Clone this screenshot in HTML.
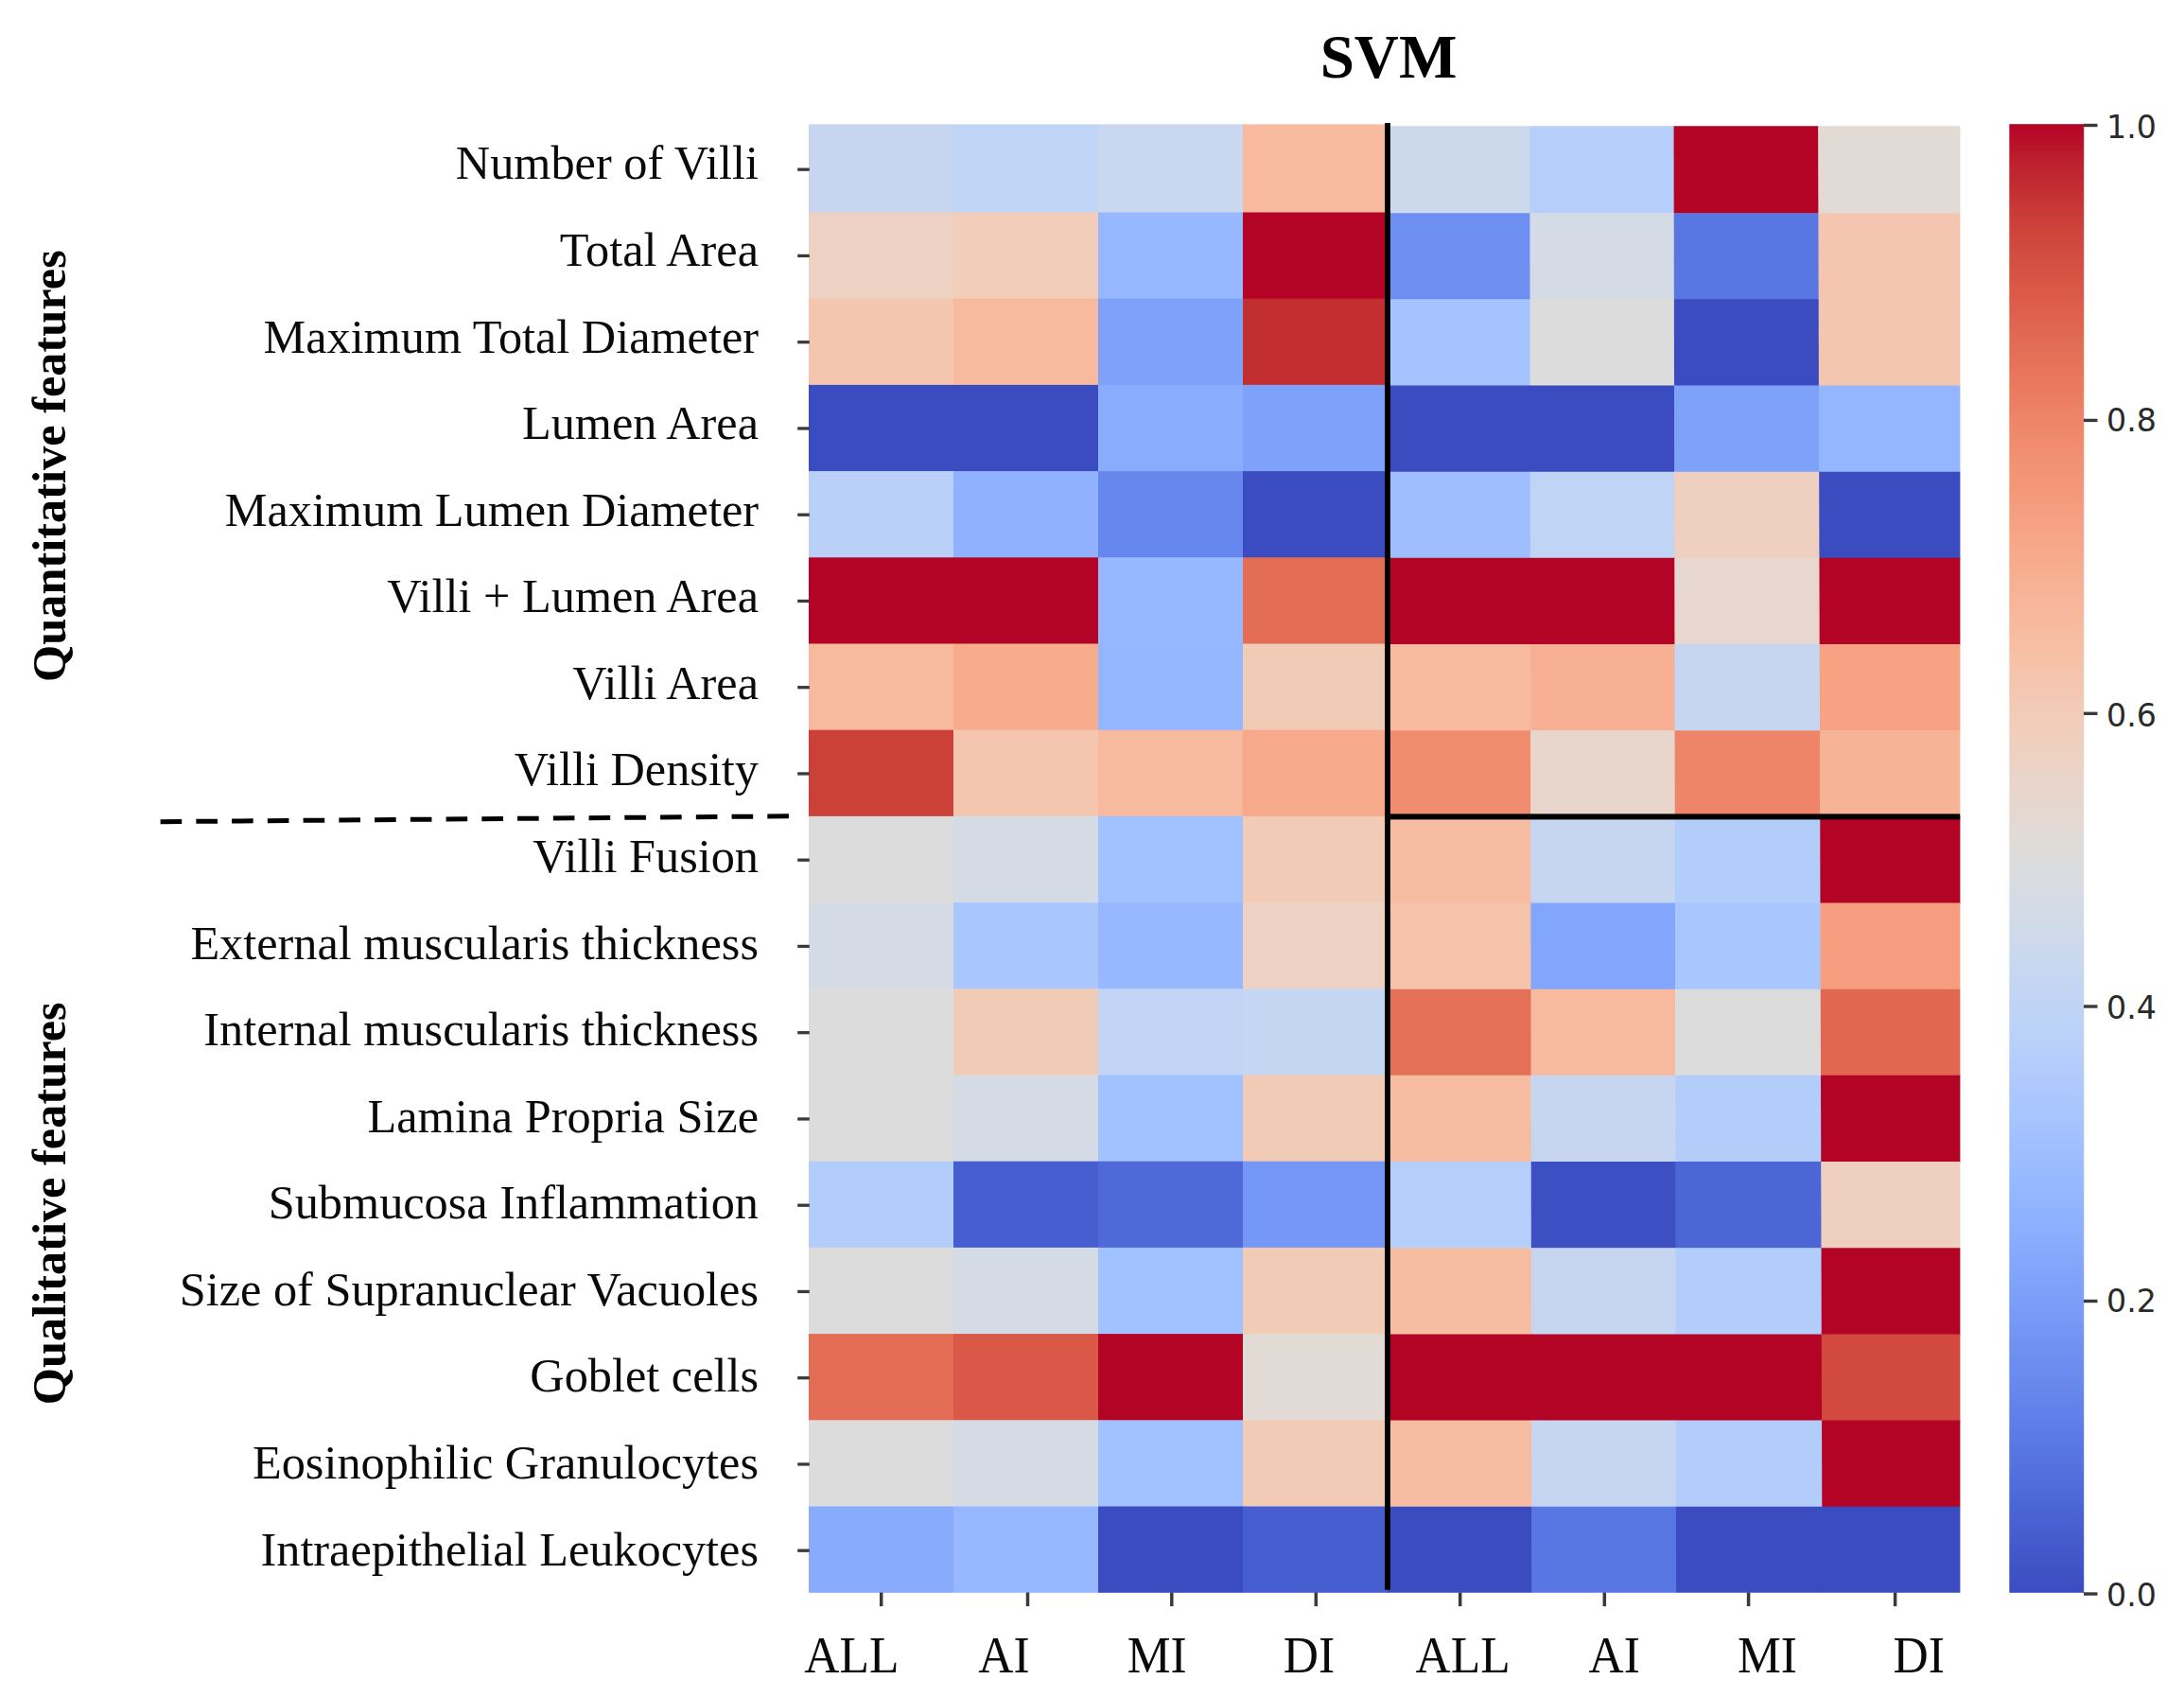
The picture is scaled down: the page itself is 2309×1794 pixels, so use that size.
<!DOCTYPE html>
<html lang="en"><head><meta charset="utf-8"><title>SVM feature importance heatmap</title>
<style>html,body{margin:0;padding:0;background:#fff}body{width:2309px;height:1794px;overflow:hidden}svg{display:block}.lab{font-family:"Liberation Serif","Times New Roman",serif;fill:#0a0a0a}.b{fill:#000;font-weight:bold}.num{font-family:"DejaVu Sans","Liberation Sans",sans-serif;fill:#2a2a2a}</style></head><body>
<svg width="2309" height="1794" viewBox="0 0 2309 1794">
<rect x="0" y="0" width="2309" height="1794" fill="#ffffff"/>
<defs><linearGradient id="cb" x1="0" y1="0" x2="0" y2="1"><stop offset="0.0000" stop-color="#b40426"/><stop offset="0.0250" stop-color="#bd1f2d"/><stop offset="0.0500" stop-color="#c53334"/><stop offset="0.0750" stop-color="#cf453c"/><stop offset="0.1000" stop-color="#d65244"/><stop offset="0.1250" stop-color="#dd5f4b"/><stop offset="0.1500" stop-color="#e36c55"/><stop offset="0.1750" stop-color="#e9785d"/><stop offset="0.2000" stop-color="#ee8468"/><stop offset="0.2250" stop-color="#f18f71"/><stop offset="0.2500" stop-color="#f4987a"/><stop offset="0.2750" stop-color="#f6a385"/><stop offset="0.3000" stop-color="#f7ac8e"/><stop offset="0.3250" stop-color="#f7b599"/><stop offset="0.3500" stop-color="#f6bda2"/><stop offset="0.3750" stop-color="#f5c4ac"/><stop offset="0.4000" stop-color="#f2cbb7"/><stop offset="0.4250" stop-color="#eed0c0"/><stop offset="0.4500" stop-color="#e9d5cb"/><stop offset="0.4750" stop-color="#e3d9d3"/><stop offset="0.5000" stop-color="#dddcdc"/><stop offset="0.5250" stop-color="#d6dce4"/><stop offset="0.5500" stop-color="#cfdaea"/><stop offset="0.5750" stop-color="#c7d7f0"/><stop offset="0.6000" stop-color="#c0d4f5"/><stop offset="0.6250" stop-color="#b9d0f9"/><stop offset="0.6500" stop-color="#afcafc"/><stop offset="0.6750" stop-color="#a7c5fe"/><stop offset="0.7000" stop-color="#9ebeff"/><stop offset="0.7250" stop-color="#96b7ff"/><stop offset="0.7500" stop-color="#8db0fe"/><stop offset="0.7750" stop-color="#84a7fc"/><stop offset="0.8000" stop-color="#7b9ff9"/><stop offset="0.8250" stop-color="#7295f4"/><stop offset="0.8500" stop-color="#6a8bef"/><stop offset="0.8750" stop-color="#6282ea"/><stop offset="0.9000" stop-color="#5977e3"/><stop offset="0.9250" stop-color="#516ddb"/><stop offset="0.9500" stop-color="#4961d2"/><stop offset="0.9750" stop-color="#4257c9"/><stop offset="1.0000" stop-color="#3b4cc0"/></linearGradient></defs>
<text class="lab b" x="1468" y="82.2" font-size="65.1" font-weight="bold" text-anchor="middle" fill="#000">SVM</text>
<g>
<rect x="855.00" y="131.40" width="153.60" height="93.70" fill="#c6d6f1"/>
<rect x="1008.00" y="131.40" width="153.60" height="93.70" fill="#c0d4f5"/>
<rect x="1161.00" y="131.40" width="153.60" height="93.70" fill="#cad8ef"/>
<rect x="1314.00" y="131.40" width="153.60" height="93.70" fill="#f7ba9f"/>
<rect x="855.00" y="224.50" width="153.60" height="91.80" fill="#edd2c3"/>
<rect x="1008.00" y="224.50" width="153.60" height="91.80" fill="#f1cdba"/>
<rect x="1161.00" y="224.50" width="153.60" height="91.80" fill="#97b8ff"/>
<rect x="1314.00" y="224.50" width="153.60" height="91.80" fill="#b40426"/>
<rect x="855.00" y="315.70" width="153.60" height="91.80" fill="#f4c6af"/>
<rect x="1008.00" y="315.70" width="153.60" height="91.80" fill="#f7ba9f"/>
<rect x="1161.00" y="315.70" width="153.60" height="91.80" fill="#7ea1fa"/>
<rect x="1314.00" y="315.70" width="153.60" height="91.80" fill="#c32e31"/>
<rect x="855.00" y="406.90" width="153.60" height="91.80" fill="#3b4cc0"/>
<rect x="1008.00" y="406.90" width="153.60" height="91.80" fill="#3b4cc0"/>
<rect x="1161.00" y="406.90" width="153.60" height="91.80" fill="#89acfd"/>
<rect x="1314.00" y="406.90" width="153.60" height="91.80" fill="#7ea1fa"/>
<rect x="855.00" y="498.10" width="153.60" height="91.80" fill="#bad0f8"/>
<rect x="1008.00" y="498.10" width="153.60" height="91.80" fill="#90b2fe"/>
<rect x="1161.00" y="498.10" width="153.60" height="91.80" fill="#6687ed"/>
<rect x="1314.00" y="498.10" width="153.60" height="91.80" fill="#3b4cc0"/>
<rect x="855.00" y="589.30" width="153.60" height="91.80" fill="#b40426"/>
<rect x="1008.00" y="589.30" width="153.60" height="91.80" fill="#b40426"/>
<rect x="1161.00" y="589.30" width="153.60" height="91.80" fill="#97b8ff"/>
<rect x="1314.00" y="589.30" width="153.60" height="91.80" fill="#e36c55"/>
<rect x="855.00" y="680.50" width="153.60" height="91.80" fill="#f7ba9f"/>
<rect x="1008.00" y="680.50" width="153.60" height="91.80" fill="#f7ac8e"/>
<rect x="1161.00" y="680.50" width="153.60" height="91.80" fill="#94b6ff"/>
<rect x="1314.00" y="680.50" width="153.60" height="91.80" fill="#f2cbb7"/>
<rect x="855.00" y="771.70" width="153.60" height="91.80" fill="#cc403a"/>
<rect x="1008.00" y="771.70" width="153.60" height="91.80" fill="#f4c6af"/>
<rect x="1161.00" y="771.70" width="153.60" height="91.80" fill="#f7ba9f"/>
<rect x="1314.00" y="771.70" width="153.60" height="91.80" fill="#f7a98b"/>
<rect x="855.00" y="862.90" width="153.60" height="91.80" fill="#dddcdc"/>
<rect x="1008.00" y="862.90" width="153.60" height="91.80" fill="#d5dbe5"/>
<rect x="1161.00" y="862.90" width="153.60" height="91.80" fill="#a2c1ff"/>
<rect x="1314.00" y="862.90" width="153.60" height="91.80" fill="#f2cbb7"/>
<rect x="855.00" y="954.10" width="153.60" height="91.80" fill="#d5dbe5"/>
<rect x="1008.00" y="954.10" width="153.60" height="91.80" fill="#aac7fd"/>
<rect x="1161.00" y="954.10" width="153.60" height="91.80" fill="#97b8ff"/>
<rect x="1314.00" y="954.10" width="153.60" height="91.80" fill="#edd2c3"/>
<rect x="855.00" y="1045.30" width="153.60" height="91.80" fill="#dddcdc"/>
<rect x="1008.00" y="1045.30" width="153.60" height="91.80" fill="#f2cbb7"/>
<rect x="1161.00" y="1045.30" width="153.60" height="91.80" fill="#c3d5f4"/>
<rect x="1314.00" y="1045.30" width="153.60" height="91.80" fill="#c5d6f2"/>
<rect x="855.00" y="1136.50" width="153.60" height="91.80" fill="#dddcdc"/>
<rect x="1008.00" y="1136.50" width="153.60" height="91.80" fill="#d5dbe5"/>
<rect x="1161.00" y="1136.50" width="153.60" height="91.80" fill="#a2c1ff"/>
<rect x="1314.00" y="1136.50" width="153.60" height="91.80" fill="#f2cbb7"/>
<rect x="855.00" y="1227.70" width="153.60" height="91.80" fill="#b3cdfb"/>
<rect x="1008.00" y="1227.70" width="153.60" height="91.80" fill="#465ecf"/>
<rect x="1161.00" y="1227.70" width="153.60" height="91.80" fill="#4f69d9"/>
<rect x="1314.00" y="1227.70" width="153.60" height="91.80" fill="#7597f6"/>
<rect x="855.00" y="1318.90" width="153.60" height="91.80" fill="#dddcdc"/>
<rect x="1008.00" y="1318.90" width="153.60" height="91.80" fill="#d5dbe5"/>
<rect x="1161.00" y="1318.90" width="153.60" height="91.80" fill="#a2c1ff"/>
<rect x="1314.00" y="1318.90" width="153.60" height="91.80" fill="#f2cbb7"/>
<rect x="855.00" y="1410.10" width="153.60" height="91.80" fill="#e36c55"/>
<rect x="1008.00" y="1410.10" width="153.60" height="91.80" fill="#d95847"/>
<rect x="1161.00" y="1410.10" width="153.60" height="91.80" fill="#b40426"/>
<rect x="1314.00" y="1410.10" width="153.60" height="91.80" fill="#e2dad5"/>
<rect x="855.00" y="1501.30" width="153.60" height="91.80" fill="#dddcdc"/>
<rect x="1008.00" y="1501.30" width="153.60" height="91.80" fill="#d5dbe5"/>
<rect x="1161.00" y="1501.30" width="153.60" height="91.80" fill="#a2c1ff"/>
<rect x="1314.00" y="1501.30" width="153.60" height="91.80" fill="#f2cbb7"/>
<rect x="855.00" y="1592.50" width="153.60" height="91.30" fill="#88abfd"/>
<rect x="1008.00" y="1592.50" width="153.60" height="91.30" fill="#97b8ff"/>
<rect x="1161.00" y="1592.50" width="153.60" height="91.30" fill="#3b4cc0"/>
<rect x="1314.00" y="1592.50" width="153.60" height="91.30" fill="#465ecf"/>
<polygon points="1467.00,133.20 1617.88,133.20 1618.00,225.77 1467.00,225.77" fill="#ccd9ed"/>
<polygon points="1617.28,133.20 1770.15,133.20 1770.30,225.77 1617.40,225.77" fill="#b6cefa"/>
<polygon points="1769.55,133.20 1922.74,133.20 1923.00,225.77 1769.70,225.77" fill="#b40426"/>
<polygon points="1922.14,133.20 2072.40,133.20 2072.40,225.77 1922.40,225.77" fill="#e2dad5"/>
<polygon points="1467.00,225.17 1618.00,225.17 1618.12,316.94 1467.00,316.94" fill="#6c8ff1"/>
<polygon points="1617.40,225.17 1770.30,225.17 1770.45,316.94 1617.52,316.94" fill="#d5dbe5"/>
<polygon points="1769.70,225.17 1923.00,225.17 1923.26,316.94 1769.85,316.94" fill="#5977e3"/>
<polygon points="1922.40,225.17 2072.40,225.17 2072.40,316.94 1922.66,316.94" fill="#f4c6af"/>
<polygon points="1467.00,316.34 1618.12,316.34 1618.24,408.11 1467.00,408.11" fill="#a5c3fe"/>
<polygon points="1617.52,316.34 1770.45,316.34 1770.59,408.11 1617.64,408.11" fill="#dddcdc"/>
<polygon points="1769.85,316.34 1923.26,316.34 1923.52,408.11 1769.99,408.11" fill="#3b4cc0"/>
<polygon points="1922.66,316.34 2072.40,316.34 2072.40,408.11 1922.92,408.11" fill="#f4c6af"/>
<polygon points="1467.00,407.51 1618.24,407.51 1618.36,499.28 1467.00,499.28" fill="#3b4cc0"/>
<polygon points="1617.64,407.51 1770.59,407.51 1770.74,499.28 1617.76,499.28" fill="#3b4cc0"/>
<polygon points="1769.99,407.51 1923.52,407.51 1923.78,499.28 1770.14,499.28" fill="#7ea1fa"/>
<polygon points="1922.92,407.51 2072.40,407.51 2072.40,499.28 1923.18,499.28" fill="#94b6ff"/>
<polygon points="1467.00,498.68 1618.36,498.68 1618.48,590.45 1467.00,590.45" fill="#9ebeff"/>
<polygon points="1617.76,498.68 1770.74,498.68 1770.89,590.45 1617.88,590.45" fill="#c0d4f5"/>
<polygon points="1770.14,498.68 1923.78,498.68 1924.04,590.45 1770.29,590.45" fill="#efcfbf"/>
<polygon points="1923.18,498.68 2072.40,498.68 2072.40,590.45 1923.44,590.45" fill="#3b4cc0"/>
<polygon points="1467.00,589.85 1618.48,589.85 1618.60,681.62 1467.00,681.62" fill="#b40426"/>
<polygon points="1617.88,589.85 1770.89,589.85 1771.03,681.62 1618.00,681.62" fill="#b40426"/>
<polygon points="1770.29,589.85 1924.04,589.85 1924.30,681.62 1770.43,681.62" fill="#e7d7ce"/>
<polygon points="1923.44,589.85 2072.40,589.85 2072.40,681.62 1923.70,681.62" fill="#b40426"/>
<polygon points="1467.00,681.02 1618.60,681.02 1618.72,772.79 1467.00,772.79" fill="#f7ba9f"/>
<polygon points="1618.00,681.02 1771.03,681.02 1771.18,772.79 1618.12,772.79" fill="#f7b093"/>
<polygon points="1770.43,681.02 1924.30,681.02 1924.56,772.79 1770.58,772.79" fill="#c6d6f1"/>
<polygon points="1923.70,681.02 2072.40,681.02 2072.40,772.79 1923.96,772.79" fill="#f6a283"/>
<polygon points="1467.00,772.19 1618.72,772.19 1618.84,863.96 1467.00,863.96" fill="#f18d6f"/>
<polygon points="1618.12,772.19 1771.18,772.19 1771.33,863.96 1618.24,863.96" fill="#e8d6cc"/>
<polygon points="1770.58,772.19 1924.56,772.19 1924.82,863.96 1770.73,863.96" fill="#ee8468"/>
<polygon points="1923.96,772.19 2072.40,772.19 2072.40,863.96 1924.22,863.96" fill="#f7b396"/>
<polygon points="1467.00,863.36 1618.84,863.36 1618.96,955.13 1467.00,955.13" fill="#f6bda2"/>
<polygon points="1618.24,863.36 1771.33,863.36 1771.47,955.13 1618.36,955.13" fill="#c6d6f1"/>
<polygon points="1770.73,863.36 1924.82,863.36 1925.08,955.13 1770.87,955.13" fill="#b3cdfb"/>
<polygon points="1924.22,863.36 2072.40,863.36 2072.40,955.13 1924.48,955.13" fill="#b40426"/>
<polygon points="1467.00,954.53 1618.96,954.53 1619.08,1046.30 1467.00,1046.30" fill="#f5c2aa"/>
<polygon points="1618.36,954.53 1771.47,954.53 1771.62,1046.30 1618.48,1046.30" fill="#82a6fb"/>
<polygon points="1770.87,954.53 1925.08,954.53 1925.34,1046.30 1771.02,1046.30" fill="#a9c6fd"/>
<polygon points="1924.48,954.53 2072.40,954.53 2072.40,1046.30 1924.74,1046.30" fill="#f59d7e"/>
<polygon points="1467.00,1045.70 1619.08,1045.70 1619.20,1137.47 1467.00,1137.47" fill="#e57058"/>
<polygon points="1618.48,1045.70 1771.62,1045.70 1771.77,1137.47 1618.60,1137.47" fill="#f7ba9f"/>
<polygon points="1771.02,1045.70 1925.34,1045.70 1925.60,1137.47 1771.17,1137.47" fill="#dddcdc"/>
<polygon points="1924.74,1045.70 2072.40,1045.70 2072.40,1137.47 1925.00,1137.47" fill="#e16751"/>
<polygon points="1467.00,1136.87 1619.20,1136.87 1619.32,1228.64 1467.00,1228.64" fill="#f6bda2"/>
<polygon points="1618.60,1136.87 1771.77,1136.87 1771.91,1228.64 1618.72,1228.64" fill="#c6d6f1"/>
<polygon points="1771.17,1136.87 1925.60,1136.87 1925.86,1228.64 1771.31,1228.64" fill="#b3cdfb"/>
<polygon points="1925.00,1136.87 2072.40,1136.87 2072.40,1228.64 1925.26,1228.64" fill="#b40426"/>
<polygon points="1467.00,1228.04 1619.32,1228.04 1619.44,1319.81 1467.00,1319.81" fill="#b6cefa"/>
<polygon points="1618.72,1228.04 1771.91,1228.04 1772.06,1319.81 1618.84,1319.81" fill="#3d50c3"/>
<polygon points="1771.31,1228.04 1925.86,1228.04 1926.12,1319.81 1771.46,1319.81" fill="#4c66d6"/>
<polygon points="1925.26,1228.04 2072.40,1228.04 2072.40,1319.81 1925.52,1319.81" fill="#efcfbf"/>
<polygon points="1467.00,1319.21 1619.44,1319.21 1619.56,1410.98 1467.00,1410.98" fill="#f6bda2"/>
<polygon points="1618.84,1319.21 1772.06,1319.21 1772.21,1410.98 1618.96,1410.98" fill="#c6d6f1"/>
<polygon points="1771.46,1319.21 1926.12,1319.21 1926.38,1410.98 1771.61,1410.98" fill="#b3cdfb"/>
<polygon points="1925.52,1319.21 2072.40,1319.21 2072.40,1410.98 1925.78,1410.98" fill="#b40426"/>
<polygon points="1467.00,1410.38 1619.56,1410.38 1619.68,1502.15 1467.00,1502.15" fill="#b40426"/>
<polygon points="1618.96,1410.38 1772.21,1410.38 1772.35,1502.15 1619.08,1502.15" fill="#b40426"/>
<polygon points="1771.61,1410.38 1926.38,1410.38 1926.64,1502.15 1771.75,1502.15" fill="#b40426"/>
<polygon points="1925.78,1410.38 2072.40,1410.38 2072.40,1502.15 1926.04,1502.15" fill="#d1493f"/>
<polygon points="1467.00,1501.55 1619.68,1501.55 1619.80,1593.32 1467.00,1593.32" fill="#f6bda2"/>
<polygon points="1619.08,1501.55 1772.35,1501.55 1772.50,1593.32 1619.20,1593.32" fill="#c6d6f1"/>
<polygon points="1771.75,1501.55 1926.64,1501.55 1926.90,1593.32 1771.90,1593.32" fill="#b3cdfb"/>
<polygon points="1926.04,1501.55 2072.40,1501.55 2072.40,1593.32 1926.30,1593.32" fill="#b40426"/>
<polygon points="1467.00,1592.72 1619.80,1592.72 1619.92,1683.80 1467.00,1683.80" fill="#3b4cc0"/>
<polygon points="1619.20,1592.72 1772.50,1592.72 1772.65,1683.80 1619.32,1683.80" fill="#5977e3"/>
<polygon points="1771.90,1592.72 1926.90,1592.72 1927.16,1683.80 1772.05,1683.80" fill="#3b4cc0"/>
<polygon points="1926.30,1592.72 2072.40,1592.72 2072.40,1683.80 1926.56,1683.80" fill="#3b4cc0"/>
</g>
<rect x="843.2" y="177.55" width="12.6" height="3.3" fill="#3a3a3a"/>
<text class="lab" x="802" y="189.45" font-size="50.3" text-anchor="end">Number of Villi</text>
<rect x="843.2" y="268.80" width="12.6" height="3.3" fill="#3a3a3a"/>
<text class="lab" x="802" y="281.02" font-size="50.3" text-anchor="end">Total Area</text>
<rect x="843.2" y="360.05" width="12.6" height="3.3" fill="#3a3a3a"/>
<text class="lab" x="802" y="372.59" font-size="50.3" text-anchor="end">Maximum Total Diameter</text>
<rect x="843.2" y="451.30" width="12.6" height="3.3" fill="#3a3a3a"/>
<text class="lab" x="802" y="464.16" font-size="50.3" text-anchor="end">Lumen Area</text>
<rect x="843.2" y="542.55" width="12.6" height="3.3" fill="#3a3a3a"/>
<text class="lab" x="802" y="555.73" font-size="50.3" text-anchor="end">Maximum Lumen Diameter</text>
<rect x="843.2" y="633.80" width="12.6" height="3.3" fill="#3a3a3a"/>
<text class="lab" x="802" y="647.30" font-size="50.3" text-anchor="end">Villi + Lumen Area</text>
<rect x="843.2" y="725.05" width="12.6" height="3.3" fill="#3a3a3a"/>
<text class="lab" x="802" y="738.87" font-size="50.3" text-anchor="end">Villi Area</text>
<rect x="843.2" y="816.30" width="12.6" height="3.3" fill="#3a3a3a"/>
<text class="lab" x="802" y="830.44" font-size="50.3" text-anchor="end">Villi Density</text>
<rect x="843.2" y="907.55" width="12.6" height="3.3" fill="#3a3a3a"/>
<text class="lab" x="802" y="922.01" font-size="50.3" text-anchor="end">Villi Fusion</text>
<rect x="843.2" y="998.80" width="12.6" height="3.3" fill="#3a3a3a"/>
<text class="lab" x="802" y="1013.58" font-size="50.3" text-anchor="end">External muscularis thickness</text>
<rect x="843.2" y="1090.05" width="12.6" height="3.3" fill="#3a3a3a"/>
<text class="lab" x="802" y="1105.15" font-size="50.3" text-anchor="end">Internal muscularis thickness</text>
<rect x="843.2" y="1181.30" width="12.6" height="3.3" fill="#3a3a3a"/>
<text class="lab" x="802" y="1196.72" font-size="50.3" text-anchor="end">Lamina Propria Size</text>
<rect x="843.2" y="1272.55" width="12.6" height="3.3" fill="#3a3a3a"/>
<text class="lab" x="802" y="1288.29" font-size="50.3" text-anchor="end">Submucosa Inflammation</text>
<rect x="843.2" y="1363.80" width="12.6" height="3.3" fill="#3a3a3a"/>
<text class="lab" x="802" y="1379.86" font-size="50.3" text-anchor="end">Size of Supranuclear Vacuoles</text>
<rect x="843.2" y="1455.05" width="12.6" height="3.3" fill="#3a3a3a"/>
<text class="lab" x="802" y="1471.43" font-size="50.3" text-anchor="end">Goblet cells</text>
<rect x="843.2" y="1546.30" width="12.6" height="3.3" fill="#3a3a3a"/>
<text class="lab" x="802" y="1563.00" font-size="50.3" text-anchor="end">Eosinophilic Granulocytes</text>
<rect x="843.2" y="1637.55" width="12.6" height="3.3" fill="#3a3a3a"/>
<text class="lab" x="802" y="1654.57" font-size="50.3" text-anchor="end">Intraepithelial Leukocytes</text>
<rect x="929.95" y="1683.50" width="3.5" height="14.6" fill="#3a3a3a"/>
<text class="lab" transform="translate(850.30,1768.4) scale(1,1.065)" font-size="51.5">ALL</text>
<rect x="1084.75" y="1683.50" width="3.5" height="14.6" fill="#3a3a3a"/>
<text class="lab" transform="translate(1034.30,1768.4) scale(1,1.065)" font-size="51.5">AI</text>
<rect x="1237.05" y="1683.50" width="3.5" height="14.6" fill="#3a3a3a"/>
<text class="lab" transform="translate(1191.80,1768.4) scale(1,1.065)" font-size="51.5">MI</text>
<rect x="1389.55" y="1683.50" width="3.5" height="14.6" fill="#3a3a3a"/>
<text class="lab" transform="translate(1356.80,1768.4) scale(1,1.065)" font-size="51.5">DI</text>
<rect x="1541.95" y="1683.50" width="3.5" height="14.6" fill="#3a3a3a"/>
<text class="lab" transform="translate(1496.50,1768.4) scale(1,1.065)" font-size="51.5">ALL</text>
<rect x="1694.55" y="1683.50" width="3.5" height="14.6" fill="#3a3a3a"/>
<text class="lab" transform="translate(1679.50,1768.4) scale(1,1.065)" font-size="51.5">AI</text>
<rect x="1846.85" y="1683.50" width="3.5" height="14.6" fill="#3a3a3a"/>
<text class="lab" transform="translate(1836.90,1768.4) scale(1,1.065)" font-size="51.5">MI</text>
<rect x="2001.85" y="1683.50" width="3.5" height="14.6" fill="#3a3a3a"/>
<text class="lab" transform="translate(2001.50,1768.4) scale(1,1.065)" font-size="51.5">DI</text>
<rect x="1464.1" y="130" width="5.8" height="1550.7" fill="#000"/>
<rect x="1464.1" y="860.4" width="608.1" height="6.0" fill="#000"/>
<line x1="169.6" y1="868.7" x2="834.6" y2="862.8" stroke="#000" stroke-width="5" stroke-dasharray="22.6 15.15"/>
<text class="lab b" transform="translate(68.8,492.6) rotate(-90)" font-size="50.4" font-weight="bold" text-anchor="middle" fill="#000">Quantitative features</text>
<text class="lab b" transform="translate(68.8,1272.3) rotate(-90)" font-size="50.4" font-weight="bold" text-anchor="middle" fill="#000">Qualitative features</text>
<rect x="2124.3" y="131.2" width="78.9" height="1552.6" fill="url(#cb)"/>
<rect x="2203" y="1683.30" width="14.5" height="3.4" fill="#3a3a3a"/>
<text class="num" x="2227" y="1698.40" font-size="33.3">0.0</text>
<rect x="2203" y="1373.80" width="14.5" height="3.4" fill="#3a3a3a"/>
<text class="num" x="2227" y="1387.10" font-size="33.3">0.2</text>
<rect x="2203" y="1062.30" width="14.5" height="3.4" fill="#3a3a3a"/>
<text class="num" x="2227" y="1077.10" font-size="33.3">0.4</text>
<rect x="2203" y="752.60" width="14.5" height="3.4" fill="#3a3a3a"/>
<text class="num" x="2227" y="767.70" font-size="33.3">0.6</text>
<rect x="2203" y="442.70" width="14.5" height="3.4" fill="#3a3a3a"/>
<text class="num" x="2227" y="455.90" font-size="33.3">0.8</text>
<rect x="2203" y="130.80" width="14.5" height="3.4" fill="#3a3a3a"/>
<text class="num" x="2227" y="146.10" font-size="33.3">1.0</text>
</svg></body></html>
